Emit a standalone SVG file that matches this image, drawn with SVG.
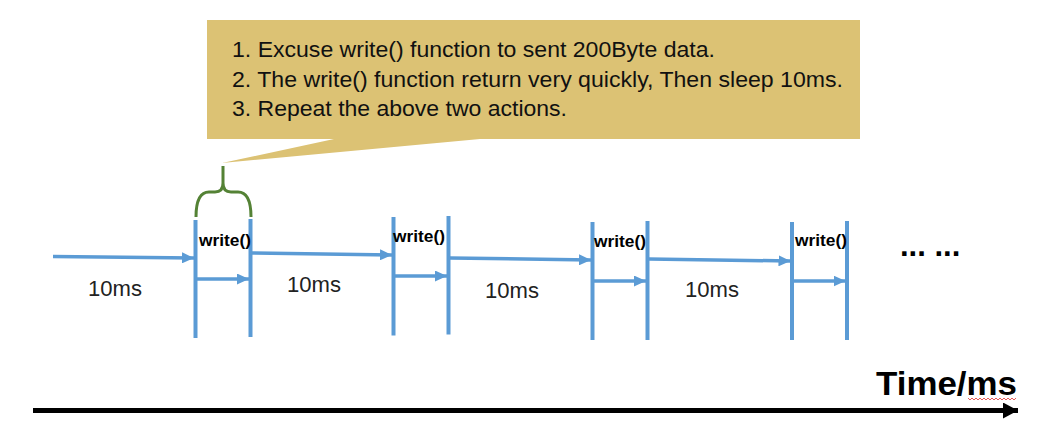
<svg xmlns="http://www.w3.org/2000/svg" width="1061" height="440" viewBox="0 0 1061 440">
<defs>
<marker id="ab" viewBox="0 0 12 11" refX="12" refY="5.5" markerWidth="12" markerHeight="11" markerUnits="userSpaceOnUse" orient="auto">
<path d="M0,0 L12,5.5 L0,11 Z" fill="#5B9BD5"/>
</marker>
<marker id="ak" viewBox="0 0 15 16" refX="15" refY="8" markerWidth="15" markerHeight="16" markerUnits="userSpaceOnUse" orient="auto">
<path d="M0,0 L15,8 L0,16 Z" fill="#000"/>
</marker>
</defs>
<style>
.bar{stroke:#5B9BD5;stroke-width:4;fill:none}
.arr{stroke:#5B9BD5;stroke-width:3.5;fill:none;marker-end:url(#ab)}
.lbl{font-family:"Liberation Sans",Arial,sans-serif;font-weight:bold;font-size:17px;fill:#000}
.ms{font-family:"Liberation Sans",Arial,sans-serif;font-size:22px;fill:#222}
.note{font-family:"Liberation Sans",Arial,sans-serif;font-size:22px;fill:#111}
</style>
<rect width="1061" height="440" fill="#fff"/>
<g id="callout">
<path d="M207,20 H860 V139 H480 L222,163 L334,139 H207 Z" fill="#DCC274"/>
<text class="note" x="232" y="57" textLength="483" lengthAdjust="spacingAndGlyphs">1. Excuse write() function to sent 200Byte data.</text>
<text class="note" x="232" y="87" textLength="611" lengthAdjust="spacingAndGlyphs">2. The write() function return very quickly, Then sleep 10ms.</text>
<text class="note" x="232" y="116" textLength="335" lengthAdjust="spacingAndGlyphs">3. Repeat the above two actions.</text>
</g>
<g id="brace">
<path d="M196,217 Q196,192 209,192 L215,192 Q223,192 223,183 L223,166 M223,183 Q223,192 231,192 L238,192 Q251,192 251,217" fill="none" stroke="#548235" stroke-width="3"/>
</g>
<g id="write1">
<line class="bar" x1="195.5" y1="220" x2="195.5" y2="338"/>
<line class="bar" x1="250.5" y1="219" x2="250.5" y2="337"/>
<text class="lbl" x="199" y="246" textLength="52" lengthAdjust="spacingAndGlyphs">write()</text>
</g>
<g id="write2">
<line class="bar" x1="393.5" y1="217" x2="393.5" y2="335.5"/>
<line class="bar" x1="448.5" y1="216" x2="448.5" y2="334.5"/>
<text class="lbl" x="393" y="242" textLength="52" lengthAdjust="spacingAndGlyphs">write()</text>
</g>
<g id="write3">
<line class="bar" x1="592.5" y1="222" x2="592.5" y2="340"/>
<line class="bar" x1="647.5" y1="221" x2="647.5" y2="340"/>
<text class="lbl" x="594" y="247" textLength="52" lengthAdjust="spacingAndGlyphs">write()</text>
</g>
<g id="write4">
<line class="bar" x1="792" y1="222" x2="792" y2="340"/>
<line class="bar" x1="847" y1="221" x2="847" y2="340"/>
<text class="lbl" x="795" y="246" textLength="52" lengthAdjust="spacingAndGlyphs">write()</text>
</g>
<g id="connectors">
<line class="arr" x1="53" y1="256.5" x2="194" y2="258"/>
<line class="arr" x1="197" y1="279" x2="249" y2="279"/>
<line class="arr" x1="252" y1="253" x2="392" y2="255"/>
<line class="arr" x1="395" y1="276" x2="447" y2="276"/>
<line class="arr" x1="450" y1="258" x2="591" y2="260"/>
<line class="arr" x1="594" y1="281" x2="646" y2="281"/>
<line class="arr" x1="649" y1="259" x2="790.5" y2="261"/>
<line class="arr" x1="794" y1="281" x2="845.5" y2="281"/>
<line x1="33" y1="410.5" x2="1018" y2="410.5" stroke="#000" stroke-width="5" marker-end="url(#ak)"/>
</g>
<g id="labels">
<text class="ms" x="88" y="296" textLength="54" lengthAdjust="spacingAndGlyphs">10ms</text>
<text class="ms" x="287" y="292" textLength="54" lengthAdjust="spacingAndGlyphs">10ms</text>
<text class="ms" x="485" y="298" textLength="54" lengthAdjust="spacingAndGlyphs">10ms</text>
<text class="ms" x="685" y="297" textLength="54" lengthAdjust="spacingAndGlyphs">10ms</text>
<text x="900" y="256" font-family="Liberation Sans,Arial,sans-serif" font-weight="bold" font-size="31" fill="#000">... ...</text>
<text x="876" y="395" font-family="Liberation Sans,Arial,sans-serif" font-weight="bold" font-size="34" fill="#000" textLength="141" lengthAdjust="spacingAndGlyphs">Time/ms</text>
<polyline points="968,398 970,400 972,398 974,400 976,398 978,400 980,398 982,400 984,398 986,400 988,398 990,400 992,398 994,400 996,398 998,400 1000,398 1002,400 1004,398 1006,400 1008,398 1010,400 1012,398 1014,400 1016,398" fill="none" stroke="#E03030" stroke-width="0.8"/>
</g>
</svg>
